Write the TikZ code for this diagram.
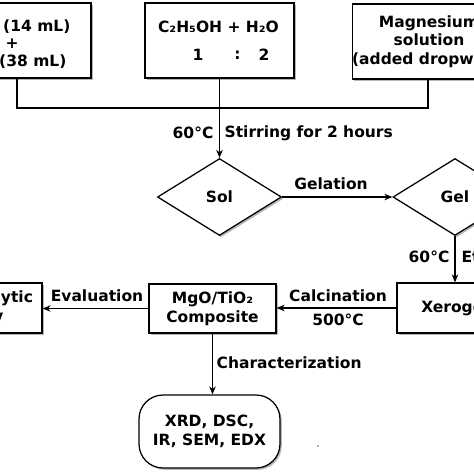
\documentclass[tikz,border=0pt]{standalone}
\usepackage{fontspec}
\setmainfont{DejaVu Sans}
\usetikzlibrary{arrows.meta,shapes.geometric,shadows}
\begin{document}
\begin{tikzpicture}[x=1pt,y=-1pt,
  font=\fontsize{15.5}{18.5}\selectfont\bfseries,
  line width=1.25pt,
  shad/.style={drop shadow={shadow xshift=1.8pt,shadow yshift=-1.8pt,fill=black!40,opacity=0.7}},
  box/.style={draw,fill=white,rectangle,inner sep=0pt,align=center,shad},
  dia/.style={draw,fill=white,diamond,aspect=1.6,minimum width=124pt,minimum height=77pt,inner sep=0pt,shad},
  arr/.style={-{Stealth[length=8pt,width=6.5pt,inset=2.5pt]}},
  lbl/.style={inner sep=0pt}]
\useasboundingbox (0,0) rectangle (474,474);
\clip (0,0) rectangle (474,474);
% top row
\node[box,minimum width=161pt,minimum height=75pt] (b1) at (10.5,40.5) {};
\node[lbl,anchor=east] (t1a) at (71,27) {(14 mL)};
\node[lbl] (t1b) at (12,44) {+};
\node[lbl,anchor=east] (t1c) at (67,62) {(38 mL)};
\node[box,minimum width=149pt,minimum height=75pt] (b2) at (219.5,40.5) {};
\node[lbl] (t2a) at (218.5,27) {C₂H₅OH + H₂O};
\node[lbl] (t2b) at (198,55) {1};
\node[lbl] (t2c) at (237.5,55) {:};
\node[lbl] (t2d) at (264,55) {2};
\node[box,minimum width=152pt,minimum height=75pt] (b3) at (429,41.5) {Magnesium\\solution\\(added dropwise)};
\coordinate (jl) at (17,108);
\coordinate (jm) at (219.5,108);
\coordinate (jr) at (428,108);
\draw (b1.south -| jl) -- (jl) -- (jr) -- (b3.south -| jr);
\draw (b2.south) -- (jm);
% sol / gel
\node[dia] (sol) at (219.5,197) {Sol};
\draw[arr] (jm) -- (sol.north);
\node[lbl,anchor=east] (l1) at (214,133) {60°C};
\node[lbl,anchor=west] (l2) at (224,133) {Stirring for 2 hours};
\node[dia] (gel) at (455,197) {Gel};
\draw[arr] (sol.east) -- (gel.west);
\node[lbl] (l3) at (331,184) {Gelation};
% xerogel
\node[box,minimum width=116pt,minimum height=50pt] (xer) at (455,308) {Xerogel};
\draw[arr] (gel.south) -- (xer.north);
\node[lbl,anchor=east] (l4) at (450,257) {60°C};
\node[lbl,anchor=west] (l5) at (461,257) {Et};
% composite
\node[box,minimum width=127pt,minimum height=49pt] (mgo) at (212.5,308.5) {MgO/TiO₂\\Composite};
\draw[arr] (xer.west) -- (xer.west -| mgo.east);
\node[lbl] (l6) at (338,296) {Calcination};
\node[lbl] (l7) at (338,320) {500°C};
\node[box,minimum width=144pt,minimum height=50pt] (act) at (-30,308) {Photocatalytic\\Activity};
\draw[arr] (mgo.west) -- (mgo.west -| act.east);
\node[lbl] (l8) at (97,296) {Evaluation};
% characterization
\node[box,rounded corners=24pt,minimum width=141pt,minimum height=73pt] (chr) at (209.5,431.5) {XRD, DSC,\\IR, SEM, EDX};
\draw[arr] (mgo.south) -- (mgo.south |- chr.north);
\node[lbl,anchor=west] (l9) at (216,363) {Characterization};
\fill[black!60] (318,446) circle (0.9pt);
\end{tikzpicture}
\end{document}
